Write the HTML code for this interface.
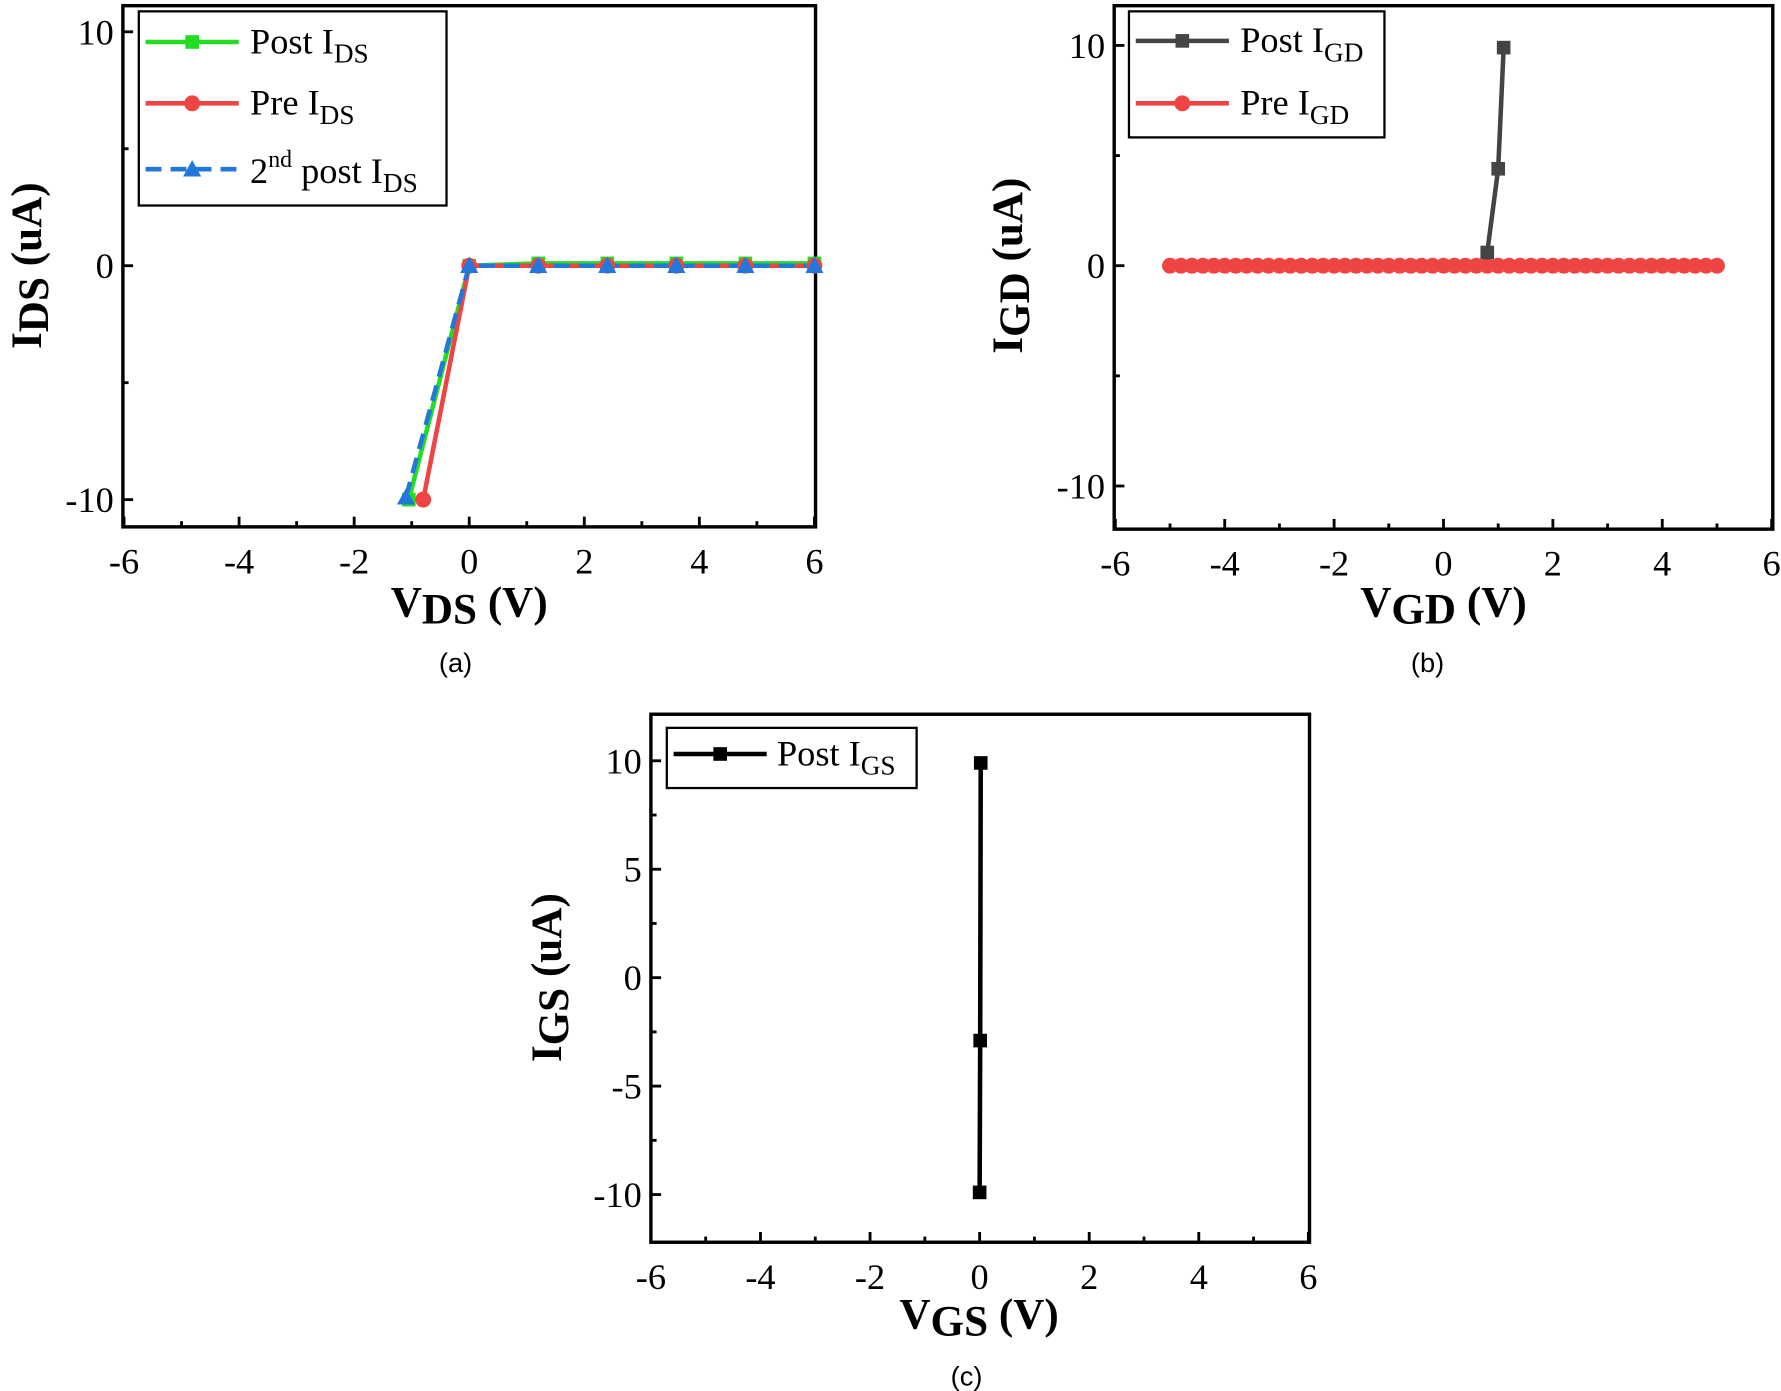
<!DOCTYPE html>
<html><head><meta charset="utf-8"><style>
html,body{margin:0;padding:0;background:#fff}
svg{display:block}
text{font-family:"Liberation Serif",serif;fill:#000}
.t{font-size:32px}
.lg{font-size:32px}
.ax{font-size:38px;font-weight:bold}
.cap{font-family:"Liberation Sans",sans-serif;font-size:24px}
</style></head><body>
<svg id="s" width="1781" height="1391" viewBox="0 0 1568 1225" xmlns="http://www.w3.org/2000/svg">
<g id="g"></g>
</svg>
<script>
var S='';
function panel(o){
 var x0=o.L,x1=o.R,y0=o.T,y1=o.B;
 var X=function(v){return o.px0+(v+6)*(o.px1-o.px0)/12};
 var Y=function(v){return o.py0-(v)*(o.py0-o.py10)/10};
 o.X=X;o.Y=Y;
 S+='<rect x="'+x0+'" y="'+y0+'" width="'+(x1-x0)+'" height="'+(y1-y0)+'" fill="none" stroke="#000" stroke-width="3"/>';
 for(var v=-6;v<=6;v++){var x=X(v),len=(v%2==0)?9:5;
  S+='<line x1="'+x+'" y1="'+y1+'" x2="'+x+'" y2="'+(y1-len)+'" stroke="#000" stroke-width="2.5"/>';
  if(v%2==0)S+='<text class="t" x="'+x+'" y="'+(y1+41)+'" text-anchor="middle">'+v+'</text>';}
 o.yt.forEach(function(t){var y=Y(t[0]);
  S+='<line x1="'+x0+'" y1="'+y+'" x2="'+(x0+(t[1]?9:5))+'" y2="'+y+'" stroke="#000" stroke-width="2.5"/>';
  if(t[1])S+='<text class="t" x="'+(x0-8)+'" y="'+(y+11)+'" text-anchor="end">'+t[0]+'</text>';});
}
function line(pts,o,c,w,dash){S+='<polyline points="'+pts.map(function(p){return o.X(p[0])+','+o.Y(p[1])}).join(' ')+'" fill="none" stroke="'+c+'" stroke-width="'+w+'"'+(dash?' stroke-dasharray="'+dash+'"':'')+'/>';}
function sq(x,y,c,r){S+='<rect x="'+(x-r)+'" y="'+(y-r)+'" width="'+2*r+'" height="'+2*r+'" fill="'+c+'"/>';}
function ci(x,y,c,r){S+='<circle cx="'+x+'" cy="'+y+'" r="'+r+'" fill="'+c+'"/>';}
function tri(x,y,c,r){S+='<polygon points="'+x+','+(y-r)+' '+(x-r)+','+(y+r*0.8)+' '+(x+r)+','+(y+r*0.8)+'" fill="'+c+'"/>';}
var a={L:108,R:718,T:5,B:464,px0:109,px1:717,py0:234,py10:28,yt:[[10,1],[5,0],[0,1],[-5,0],[-10,1]]};
panel(a);
var G='#22dd22',R='#ee4444',B='#2277dd';
var xs=[0,1.2,2.4,3.6,4.8,6];
var pg=[[-1.05,-10]].concat(xs.map(function(x){return[x,x==0?0:0.1]}));
var pr=[[-0.8,-10]].concat(xs.map(function(x){return[x,0]}));
var pb=[[-1.1,-9.9]].concat(xs.map(function(x){return[x,0]}));
line(pg,a,G,4);line(pr,a,R,4);line(pb,a,B,4,'14,8');
pg.forEach(function(p){sq(a.X(p[0]),a.Y(p[1]),G,6)});
pr.forEach(function(p){ci(a.X(p[0]),a.Y(p[1]),R,7)});
pb.forEach(function(p){tri(a.X(p[0]),a.Y(p[1]),B,8)});
S+='<rect x="122" y="10" width="271" height="171" fill="#fff" stroke="#000" stroke-width="2"/>';
S+='<line x1="128" y1="37" x2="210" y2="37" stroke="'+G+'" stroke-width="4"/>';sq(169,37,G,6);
S+='<line x1="128" y1="91" x2="210" y2="91" stroke="'+R+'" stroke-width="4"/>';ci(169,91,R,7);
S+='<line x1="128" y1="149" x2="210" y2="149" stroke="'+B+'" stroke-width="4" stroke-dasharray="14,8"/>';tri(169,149,B,8);
S+='<text class="lg" x="220" y="47">Post I<tspan font-size="24" dy="8">DS</tspan></text>';
S+='<text class="lg" x="220" y="101">Pre I<tspan font-size="24" dy="8">DS</tspan></text>';
S+='<text class="lg" x="220" y="161">2<tspan font-size="21" dy="-14">nd</tspan><tspan dy="14"> post I</tspan><tspan font-size="24" dy="8">DS</tspan></text>';
S+='<text class="ax" x="413" y="543" text-anchor="middle">V<tspan dy="6">DS</tspan><tspan dy="-6"> (V)</tspan></text>';
S+='<text class="ax" transform="translate(36,234) rotate(-90)" text-anchor="middle">I<tspan dy="6">DS</tspan><tspan dy="-6"> (uA)</tspan></text>';
S+='<text class="cap" x="401" y="592" text-anchor="middle">(a)</text>';
var b={L:981,R:1561,T:5,B:466,px0:982,px1:1560,py0:234,py10:40,yt:[[10,1],[5,0],[0,1],[-5,0],[-10,1]]};
panel(b);
var D='#444444';
line([[-5,0],[0.8,0],[0.8,0.6],[1.0,4.4],[1.1,9.9]],b,D,4);
var rp=[];for(var i=0;i<=50;i++)rp.push([-5+i*0.2,0]);
line(rp,b,R,4);
rp.forEach(function(p){ci(b.X(p[0]),b.Y(p[1]),R,7)});
[[0.8,0.6],[1.0,4.4],[1.1,9.9]].forEach(function(p){sq(b.X(p[0]),b.Y(p[1]),D,6)});
S+='<rect x="994" y="10" width="225" height="111" fill="#fff" stroke="#000" stroke-width="2"/>';
S+='<line x1="1000" y1="36" x2="1082" y2="36" stroke="'+D+'" stroke-width="4"/>';sq(1041,36,D,6);
S+='<line x1="1000" y1="91" x2="1082" y2="91" stroke="'+R+'" stroke-width="4"/>';ci(1041,91,R,7);
S+='<text class="lg" x="1092" y="46">Post I<tspan font-size="24" dy="8">GD</tspan></text>';
S+='<text class="lg" x="1092" y="101">Pre I<tspan font-size="24" dy="8">GD</tspan></text>';
S+='<text class="ax" x="1271" y="543" text-anchor="middle">V<tspan dy="6">GD</tspan><tspan dy="-6"> (V)</tspan></text>';
S+='<text class="ax" transform="translate(900,234) rotate(-90)" text-anchor="middle">I<tspan dy="6">GD</tspan><tspan dy="-6"> (uA)</tspan></text>';
S+='<text class="cap" x="1257" y="592" text-anchor="middle">(b)</text>';
var c={L:573,R:1153,T:629,B:1094,px0:573,px1:1152,py0:861,py10:670,yt:[[10,1],[7.5,0],[5,1],[2.5,0],[0,1],[-2.5,0],[-5,1],[-7.5,0],[-10,1]]};
panel(c);
line([[0.02,9.9],[0.01,-2.9],[0,-9.9]],c,'#000',4);
[[0.02,9.9],[0.01,-2.9],[0,-9.9]].forEach(function(p){sq(c.X(p[0]),c.Y(p[1]),'#000',6)});
S+='<rect x="587" y="641" width="220" height="53" fill="#fff" stroke="#000" stroke-width="2"/>';
S+='<line x1="593" y1="664" x2="675" y2="664" stroke="#000" stroke-width="4"/>';sq(634,664,'#000',6);
S+='<text class="lg" x="684" y="674">Post I<tspan font-size="24" dy="8">GS</tspan></text>';
S+='<text class="ax" x="862" y="1170" text-anchor="middle">V<tspan dy="6">GS</tspan><tspan dy="-6"> (V)</tspan></text>';
S+='<text class="ax" transform="translate(494,861) rotate(-90)" text-anchor="middle">I<tspan dy="6">GS</tspan><tspan dy="-6"> (uA)</tspan></text>';
S+='<text class="cap" x="851" y="1220" text-anchor="middle">(c)</text>';
document.getElementById('g').innerHTML=S;
</script>
</body></html>
